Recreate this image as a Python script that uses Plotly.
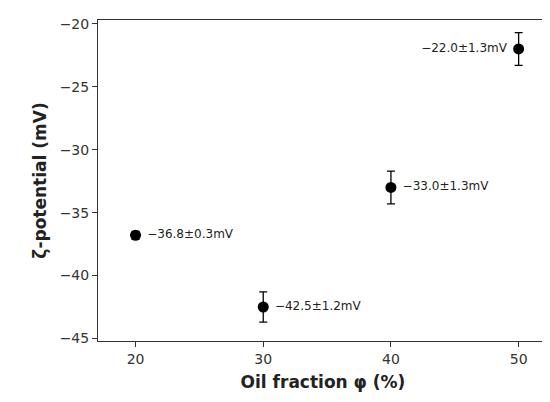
import plotly.graph_objects as go

oil = [20, 30, 40, 50]
zeta = [-36.8, -42.5, -33.0, -22.0]
err = [0.3, 1.2, 1.3, 1.3]
labels = [f"\u2212{abs(z):.1f}\u00b1{e:.1f}mV" for z, e in zip(zeta, err)]
positions = ["middle right", "middle right", "middle right", "middle left"]
shown = [(" " + t if p.endswith("right") else t + " ") for t, p in zip(labels, positions)]

fig = go.Figure(go.Scatter(
    x=oil, y=zeta, mode="markers+text",
    marker=dict(color="black", size=11),
    error_y=dict(type="data", array=err, color="black", thickness=1.3, width=4),
    text=shown, textposition=positions,
    textfont=dict(family="DejaVu Sans", size=12, color="#222"),
))
fig.update_layout(
    width=550, height=402, paper_bgcolor="white", plot_bgcolor="white",
    margin=dict(l=90, r=10, t=8, b=69), showlegend=False,
    font=dict(family="DejaVu Sans", color="#222"),
)
axis = dict(showline=True, mirror=True, linecolor="#333", linewidth=1, ticks="outside",
            ticklen=5, tickcolor="#333", showgrid=False, zeroline=False,
            tickfont=dict(size=14, color="#333"))
fig.update_xaxes(**axis, range=[17.06, 52.3], tickvals=[20, 30, 40, 50],
                 title=dict(text="<b>Oil fraction φ (%)</b>", font=dict(size=17), standoff=10))
fig.update_yaxes(**axis, range=[-45.2, -19.7], tickvals=[-45, -40, -35, -30, -25, -20],
                 ticktext=["\u221245", "\u221240", "\u221235", "\u221230", "\u221225", "\u221220"],
                 title=dict(text="<b>ζ-potential (mV)</b>", font=dict(size=17), standoff=8))
fig.write_html("out.html")
